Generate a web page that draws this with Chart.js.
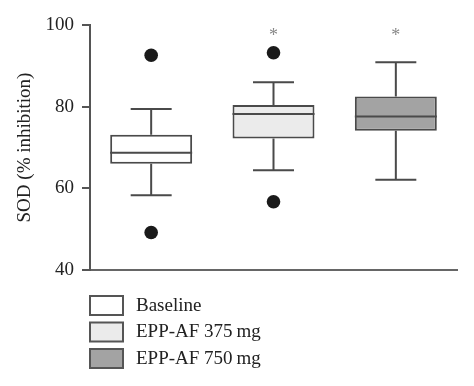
<!DOCTYPE html>
<html>
<head>
<meta charset="utf-8">
<script src="https://cdn.jsdelivr.net/npm/chart.js@4/dist/chart.umd.min.js"></script>
<style>
  html, body { margin: 0; padding: 0; background: #fff; }
  #wrap { width: 474px; height: 386px; }
</style>
</head>
<body>
<div id="wrap"><canvas id="sodChart" width="474" height="386"></canvas></div>
<script>
// box plot summary per group
const groups = ["Baseline", "EPP-AF 375\u2009mg", "EPP-AF 750\u2009mg"];
const whiskerLow = [58.3, 64.4, 62.1];
const q1 = [66.0, 72.2, 74.1];
const median = [68.7, 78.2, 77.6];
const q3 = [73.1, 80.4, 82.5];
const whiskerHigh = [79.4, 86.0, 90.9];
const outliers = [[92.6, 49.2], [93.2, 56.7], []];
const significant = [false, true, true];

const yTicks = [40, 60, 80, 100];
const fills = ["#ffffff", "#ebebeb", "#a3a3a3"];
const lineColor = "#4a4a4a";
const serif = "'Liberation Serif', 'DejaVu Serif', serif";

const outlierPoints = [];
outliers.forEach((vals, i) => {
  vals.forEach((v) => outlierPoints.push({ x: groups[i], y: v }));
});

// whiskers, medians, asterisks and the legend
const boxPlotExtras = {
  id: "boxPlotExtras",
  afterDatasetsDraw(chart) {
    const { ctx, scales } = chart;
    const y = scales.y;
    const bars = chart.getDatasetMeta(0).data;
    ctx.save();
    ctx.strokeStyle = lineColor;
    ctx.lineWidth = 2;
    bars.forEach((bar, i) => {
      const half = bar.width / 2;
      const cap = bar.width / 4;
      const yLow = y.getPixelForValue(whiskerLow[i]);
      const yHigh = y.getPixelForValue(whiskerHigh[i]);
      const yQ1 = y.getPixelForValue(q1[i]);
      const yQ3 = y.getPixelForValue(q3[i]);
      const yMed = y.getPixelForValue(median[i]);
      ctx.beginPath();
      ctx.moveTo(bar.x, yQ3);
      ctx.lineTo(bar.x, yHigh);
      ctx.moveTo(bar.x - cap, yHigh);
      ctx.lineTo(bar.x + cap, yHigh);
      ctx.moveTo(bar.x, yQ1);
      ctx.lineTo(bar.x, yLow);
      ctx.moveTo(bar.x - cap, yLow);
      ctx.lineTo(bar.x + cap, yLow);
      ctx.moveTo(bar.x - half, yMed);
      ctx.lineTo(bar.x + half, yMed);
      ctx.stroke();

      if (significant[i]) {
        ctx.fillStyle = "#888";
        ctx.font = "18px " + serif;
        ctx.textAlign = "center";
        ctx.textBaseline = "middle";
        ctx.fillText("*", bar.x, chart.chartArea.top + 11);
      }
    });

    // legend, stacked under the plot
    const left = 90;
    let top = chart.chartArea.bottom + 26;
    ctx.font = "19px " + serif;
    ctx.textAlign = "left";
    ctx.textBaseline = "middle";
    groups.forEach((g, i) => {
      ctx.fillStyle = fills[i];
      ctx.fillRect(left, top, 33, 19);
      ctx.strokeStyle = "#555";
      ctx.lineWidth = 2;
      ctx.strokeRect(left, top, 33, 19);
      ctx.fillStyle = "#222";
      ctx.fillText(g, 136, top + 10);
      top += 26.5;
    });
    ctx.restore();
  },
};

new Chart(document.getElementById("sodChart"), {
  data: {
    labels: groups,
    datasets: [
      {
        type: "bar",
        data: groups.map((_, i) => [q1[i], q3[i]]),
        backgroundColor: fills,
        borderColor: lineColor,
        borderWidth: 2,
        borderSkipped: false,
        barPercentage: 0.67,
        categoryPercentage: 1,
        order: 2,
      },
      {
        type: "scatter",
        data: outlierPoints,
        pointRadius: 6.8,
        pointBackgroundColor: "#1a1a1a",
        pointBorderWidth: 0,
        order: 1,
      },
    ],
  },
  options: {
    responsive: false,
    animation: false,
    layout: { padding: { top: 25, right: 17, bottom: 116, left: 0 } },
    plugins: {
      legend: { display: false },
      tooltip: { enabled: false },
    },
    scales: {
      x: {
        type: "category",
        offset: true,
        grid: { display: false },
        border: { display: true, color: "#666", width: 2 },
        ticks: { display: false },
        afterFit: (scale) => { scale.width; scale.height = 0; },
      },
      y: {
        min: 40,
        max: 100,
        afterBuildTicks: (scale) => {
          scale.ticks = yTicks.map((v) => ({ value: v }));
        },
        grid: {
          drawOnChartArea: false,
          drawTicks: true,
          tickLength: 8,
          color: "#555",
          lineWidth: 2,
        },
        border: { display: true, color: "#555", width: 2 },
        ticks: {
          color: "#222",
          padding: 8,
          font: { family: serif, size: 19 },
        },
        title: {
          display: true,
          text: "SOD (% inhibition)",
          color: "#222",
          padding: { top: 14, bottom: 0 },
          font: { family: serif, size: 19 },
        },
        afterFit: (scale) => { scale.width = 90; },
      },
    },
  },
  plugins: [boxPlotExtras],
});
</script>
</body>
</html>
